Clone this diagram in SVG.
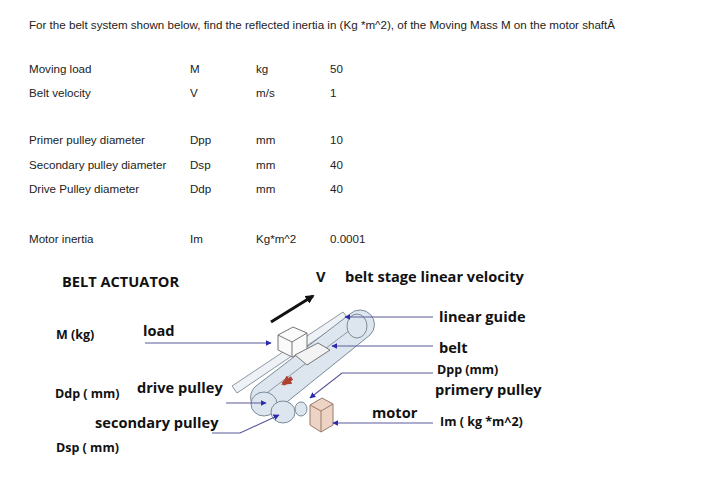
<svg xmlns="http://www.w3.org/2000/svg" width="708" height="497" viewBox="0 0 708 497">
<defs>
<style>
.t{font-family:"Liberation Sans",Arial,sans-serif;font-size:11.6px;fill:#222}
.b{font-family:"Open Sans","Noto Sans",sans-serif;font-size:14.6px;font-weight:bold;fill:#111}
.s{font-family:"Open Sans","Noto Sans",sans-serif;font-size:12.5px;font-weight:bold;fill:#111}
.ld{stroke:#5b5b9c;stroke-width:1.2;fill:none;marker-end:url(#ah)}
.part{stroke:#7a8a99;stroke-width:1;fill:#dde6ef}
</style>
<marker id="ah" viewBox="0 0 10 10" refX="9" refY="5" markerWidth="5" markerHeight="5" orient="auto"><path d="M0,0L10,5L0,10z" fill="#2a2ab0"/></marker>
<marker id="big" viewBox="0 0 10 10" refX="8" refY="5" markerWidth="3" markerHeight="3" orient="auto"><path d="M0,0L10,5L0,10z" fill="#111"/></marker>
<marker id="red" viewBox="0 0 10 10" refX="8" refY="5" markerWidth="2.5" markerHeight="2.5" orient="auto"><path d="M0,0L10,5L0,10z" fill="#b04030"/></marker>
</defs>
<rect width="708" height="497" fill="#fff"/>
<g id="table">
<text class="t" x="29" y="29">For the belt system shown below, find the reflected inertia in (Kg *m^2), of the Moving Mass M on the motor shaftÂ</text>
<text class="t" x="29" y="73">Moving load</text><text class="t" x="190" y="73">M</text><text class="t" x="256" y="73">kg</text><text class="t" x="330" y="73">50</text>
<text class="t" x="29" y="97">Belt velocity</text><text class="t" x="190" y="97">V</text><text class="t" x="256" y="97">m/s</text><text class="t" x="330" y="97">1</text>
<text class="t" x="29" y="144">Primer pulley diameter</text><text class="t" x="190" y="144">Dpp</text><text class="t" x="256" y="144">mm</text><text class="t" x="330" y="144">10</text>
<text class="t" x="29" y="169">Secondary pulley diameter</text><text class="t" x="190" y="169">Dsp</text><text class="t" x="256" y="169">mm</text><text class="t" x="330" y="169">40</text>
<text class="t" x="29" y="193">Drive Pulley diameter</text><text class="t" x="190" y="193">Ddp</text><text class="t" x="256" y="193">mm</text><text class="t" x="330" y="193">40</text>
<text class="t" x="29" y="243">Motor inertia</text><text class="t" x="190" y="243">Im</text><text class="t" x="256" y="243">Kg*m^2</text><text class="t" x="330" y="243">0.0001</text>
</g>
<g id="illustration">
<path d="M232,386 L343,312 L348,318 L237,393 Z" fill="#eef2f6" stroke="#8a96a2"/>
<path d="M256,386 L350,314 A14,14 0 0 1 370,335 L277,410 A14,14 0 0 1 256,386 Z" class="part"/>
<path d="M268,392 L350,330" stroke="#8a96a2" fill="none"/>
<ellipse cx="357" cy="326" rx="10" ry="12" class="part"/>
<path d="M278,335 L293,327 L307,333 L307,350 L292,357 L278,350 Z" fill="#fafafa" stroke="#777"/>
<path d="M278,335 L292,342 L307,333 M292,342 L292,357" stroke="#777" fill="none"/>
<path d="M295,355 L318,343 L330,350 L307,365 Z" fill="#f3f3f3" stroke="#777"/>
<path d="M292,378 L283,384" stroke="#b04030" stroke-width="4" marker-end="url(#red)"/>
<ellipse cx="264" cy="404" rx="13" ry="12" class="part"/>
<ellipse cx="283" cy="412" rx="12" ry="11" class="part"/>
<ellipse cx="301" cy="409" rx="6" ry="7" class="part"/>
<path d="M310,405 L322,398 L333,404 L333,425 L321,432 L310,425 Z" fill="#ecd3c4" stroke="#9a7a6c"/>
<path d="M310,405 L321,411 L333,404 M321,411 L321,432" stroke="#9a7a6c" fill="none"/>
<path d="M271,322 L313,296" stroke="#111" stroke-width="3" marker-end="url(#big)"/>
</g>
<g id="connectors">
<path class="ld" d="M433,317 L345,317"/>
<path class="ld" d="M433,346 L332,346"/>
<path class="ld" d="M145,343 L271,343"/>
<path class="ld" d="M433,373 L342,373 L310,398"/>
<path class="ld" d="M226,403 L266,403"/>
<path class="ld" d="M212,433 L240,433 L279,415"/>
<path class="ld" d="M433,423 L333,423"/>
</g>
<g id="labels">
<text class="b" x="62" y="287">BELT ACTUATOR</text>
<text class="b" x="316" y="282">V</text>
<text class="b" x="345" y="282">belt stage linear velocity</text>
<text class="b" x="439" y="322">linear guide</text>
<text class="b" x="439" y="353">belt</text>
<text class="s" x="437" y="374">Dpp (mm)</text>
<text class="b" x="435" y="395">primery pulley</text>
<text class="s" x="440" y="426">Im  ( kg *m^2)</text>
<text class="b" x="372" y="418">motor</text>
<text class="s" x="56" y="339">M (kg)</text>
<text class="b" x="143" y="336">load</text>
<text class="s" x="55" y="398">Ddp  ( mm)</text>
<text class="b" x="137" y="393">drive pulley</text>
<text class="b" x="95" y="428">secondary pulley</text>
<text class="s" x="56" y="452">Dsp  ( mm)</text>
</g>
</svg>
